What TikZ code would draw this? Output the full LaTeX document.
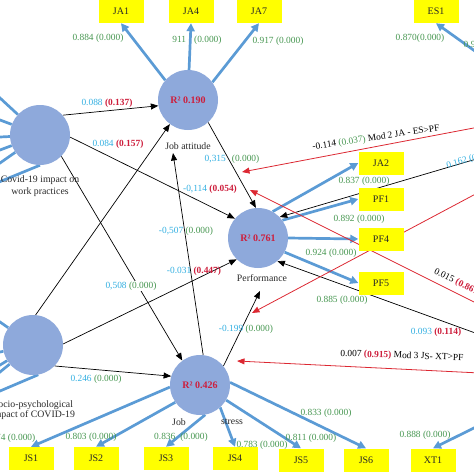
\documentclass[tikz,border=0pt]{standalone}
\usepackage{fontspec}
\setmainfont{Liberation Serif}
\usetikzlibrary{arrows.meta}
\definecolor{circ}{RGB}{142,169,219}
\definecolor{blu}{RGB}{91,155,213}
\definecolor{cyanT}{RGB}{50,175,225}
\definecolor{grn}{RGB}{70,150,80}
\definecolor{redT}{RGB}{205,30,60}
\definecolor{redL}{RGB}{220,40,50}
\definecolor{yel}{RGB}{255,255,0}
\definecolor{txt}{RGB}{40,40,40}
\pgfdeclarelayer{bg}\pgfsetlayers{bg,main}
\begin{document}
\begin{tikzpicture}[x=1pt,y=-1pt,
 latent/.style={circle,fill=circ,minimum size=60pt,inner sep=0pt,font=\bfseries\fontsize{10}{11}\selectfont,text=redT},
 ind/.style={fill=yel,minimum width=45pt,minimum height=23pt,inner sep=0pt,font=\fontsize{10}{11}\selectfont,text=txt},
 blk/.style={draw=black,line width=0.7pt,-{Triangle[length=7.5pt,width=6pt]}},
 bl/.style={draw=blu,line width=2.7pt,-{Triangle[length=8pt,width=8pt]}},
 bln/.style={draw=blu,line width=2.7pt},
 rd/.style={draw=redL,line width=0.8pt,-{Triangle[length=7.5pt,width=6pt]}},
 ld/.style={font=\fontsize{9.4}{10}\selectfont,text=grn,inner sep=0.5pt},
 cf/.style={font=\fontsize{9.4}{10}\selectfont,inner sep=0.5pt},
 nm/.style={font=\fontsize{9.8}{12}\selectfont,align=center,inner sep=0pt,text=txt}
]
\useasboundingbox (0,0) rectangle (474,474);
\clip (0,0) rectangle (474,474);
% latent variables
\node[latent] (covid) at (40,135) {};
\node[latent] (ja) at (188,100) {R² 0.190};
\node[latent] (perf) at (258,238) {R² 0.761};
\node[latent] (socio) at (33,345) {};
\node[latent] (js) at (200,385) {R² 0.426};
% names
\node[nm] (jalab) at (188,146) {Job attitude};
\node[nm] (covlab) at (40,186) {Covid-19 impact on\\work practices};
\node[nm] (perflab) at (262,278) {Performance};
\node[nm,font=\fontsize{9.8}{10}\selectfont] (soclab) at (33,410) {Socio-psychological\\impact of COVID-19};
\node[nm] (jobw) at (179,422) {Job};
\node[nm] (stressw) at (232,422) {stress};
% indicators
\node[ind] (JA1) at (121,11.5) {JA1};
\node[ind] (JA4) at (191,11.5) {JA4};
\node[ind] (JA7) at (259,11.5) {JA7};
\node[ind] (ES1) at (436,11.5) {ES1};
\node[ind] (JA2) at (381,163) {JA2};
\node[ind] (PF1) at (381,199) {PF1};
\node[ind] (PF4) at (381,239) {PF4};
\node[ind] (PF5) at (381,283) {PF5};
\node[ind] (JS1) at (31,458.5) {JS1};
\node[ind] (JS2) at (96,458.5) {JS2};
\node[ind] (JS3) at (166,458.5) {JS3};
\node[ind] (JS4) at (235,458.5) {JS4};
\node[ind] (JS5) at (301,460) {JS5};
\node[ind] (JS6) at (366,460) {JS6};
\node[ind] (XT1) at (433,460) {XT1};
% free ends
\coordinate (esR) at (500,69);
\coordinate (xtR) at (500,415);
\coordinate (m2R) at (500,123);
\coordinate (m2E) at (242,172);
\coordinate (r2R) at (500,315);
\coordinate (r2E) at (250,190);
\coordinate (r3R) at (500,181);
\coordinate (r3E) at (252,313);
\coordinate (m3R) at (500,374);
\coordinate (m3E) at (237,361);
\coordinate (b1R) at (500,152);
\coordinate (b2R) at (500,342);
\coordinate (jaIn) at (173,153);
\coordinate (pfIn) at (260,291);
\coordinate (cL1) at (-40,61);
\coordinate (cL2) at (-40,105);
\coordinate (cL3) at (-40,139);
\coordinate (cL4) at (-40,165);
\coordinate (cL5) at (-40,191);
\coordinate (cL6) at (-40,198);
\coordinate (sL1) at (-33,299);
\coordinate (sL2) at (-33,359);
\coordinate (sL3) at (-33,385);
\coordinate (sL4) at (-33,399);
\coordinate (sL5) at (-40,408);
\begin{pgfonlayer}{bg}
% outer loadings
\draw[bl] (ja.139) -- (JA1.south);
\draw[bl] (ja.88) -- (JA4.south);
\draw[bl] (ja.36) -- (JA7.south);
\draw[bl] (perf.61) -- (JA2.west);
\draw[bl] (perf.36) -- (PF1.west);
\draw[bl] (perf.0) -- (PF4.west);
\draw[bl] (perf.-28) -- (PF5.west);
\draw[bl] (js.184) -- (JS1.north);
\draw[bl] (js.215) -- (JS2.north);
\draw[bl] (js.-80) -- (JS3.north);
\draw[bl] (js.-48) -- (JS4.north);
\draw[bl] (js.-30) -- (JS5.north);
\draw[bl] (js.5) -- (JS6.north);
\draw[bl] (esR) -- (ES1.south);
\draw[bl] (xtR) -- (XT1.north);
\draw[bln] (covid) -- (cL1);
\draw[bln] (covid) -- (cL2);
\draw[bln] (covid) -- (cL3);
\draw[bln] (covid) -- (cL4);
\draw[bln] (covid) -- (cL5);
\draw[bln] (covid.-90) -- (cL6);
\draw[bln] (socio) -- (sL1);
\draw[bln] (socio) -- (sL2);
\draw[bln] (socio) -- (sL3);
\draw[bln] (socio) -- (sL4);
\draw[bln] (socio.-80) -- (sL5);
% structural paths
\draw[blk] (covid.41) -- (ja.191);
\draw[blk] (covid.-4) -- (perf.140);
\draw[blk] (covid.-45) -- (js.126);
\draw[blk] (socio.85) -- (ja.233);
\draw[blk] (socio.2) -- (perf.225);
\draw[blk] (socio.-44) -- (js.163);
\draw[blk] (ja.-48) -- (perf.94);
\draw[blk] (js.84) -- (jaIn);
\draw[blk] (js.39) -- (pfIn);
\draw[blk] (b1R) -- (perf.44);
\draw[blk] (b2R) -- (perf.-50);
% moderators
\draw[rd] (m2R) -- (m2E);
\draw[rd] (r2R) -- (r2E);
\draw[rd] (r3R) -- (r3E);
\draw[rd] (m3R) -- (m3E);
\end{pgfonlayer}
% loading labels
\node[ld] (l1) at (98,38) {0.884 (0.000)};
\node[ld] (l2) at (197,40) {911\hspace{8pt}(0.000)};
\node[ld] (l3) at (278,41) {0.917 (0.000)};
\node[ld] (l4) at (420,38) {0.870(0.000)};
\node[ld,anchor=west] (l5) at (463,45) {0.915 (0.000)};
\node[ld] (l6) at (364,181) {0.837 (0.000)};
\node[ld] (l7) at (359,219) {0.892 (0.000)};
\node[ld] (l8) at (331,253) {0.924 (0.000)};
\node[ld] (l9) at (342,300) {0.885 (0.000)};
\node[ld,anchor=east] (l10) at (36,438) {0.874 (0.000)};
\node[ld] (l11) at (91,437) {0.803 (0.000)};
\node[ld] (l12) at (181,437) {0.836\hspace{5pt}(0.000)};
\node[ld] (l13) at (262,445) {0.783 (0.000)};
\node[ld] (l14) at (311,438) {0.811 (0.000)};
\node[ld] (l15) at (326,413) {0.833 (0.000)};
\node[ld] (l16) at (425,435) {0.888 (0.000)};
% path labels
\node[cf] (p1) at (107,103) {\textcolor{cyanT}{0.088} \textcolor{redT}{\bfseries (0.137)}};
\node[cf] (p2) at (118,144) {\textcolor{cyanT}{0.084} \textcolor{redT}{\bfseries (0.157)}};
\node[cf] (p3) at (232,159) {\textcolor{cyanT}{0,315}\hspace{6pt}\textcolor{grn}{(0.000)}};
\node[cf] (p4) at (210,189) {\textcolor{cyanT}{-0,114} \textcolor{redT}{\bfseries (0.054)}};
\node[cf] (p5) at (186,231) {\textcolor{cyanT}{-0,507} \textcolor{grn}{(0.000)}};
\node[cf] (p6) at (194,271) {\textcolor{cyanT}{-0.031} \textcolor{redT}{\bfseries (0.447)}};
\node[cf,fill=white] (p7) at (131,286) {\textcolor{cyanT}{0,508} \textcolor{grn}{(0.000)}};
\node[cf] (p8) at (96,379) {\textcolor{cyanT}{0.246} \textcolor{grn}{(0.000)}};
\node[cf] (p9) at (246,329) {\textcolor{cyanT}{-0.199} \textcolor{grn}{(0.000)}};
\node[cf] (p10) at (436,332) {\textcolor{cyanT}{0.093} \textcolor{redT}{\bfseries (0.114)}};
\node[cf,rotate=8.6] (p11) at (376,138) {-0.114 \textcolor{grn}{(0.037)} Mod 2 JA - ES>PF};
\node[cf,rotate=-2] (p12) at (402,356) {0.007 \textcolor{redT}{\bfseries (0.915)} Mod 3 JS- XT>PF};
\node[cf,rotate=-26,anchor=west] (p13) at (434,271) {0.015 \textcolor{redT}{\bfseries (0.861)}};
\node[cf,rotate=15,anchor=west] (p14) at (446,166) {\textcolor{cyanT}{0.162 (0.000)}};
\end{tikzpicture}
\end{document}
